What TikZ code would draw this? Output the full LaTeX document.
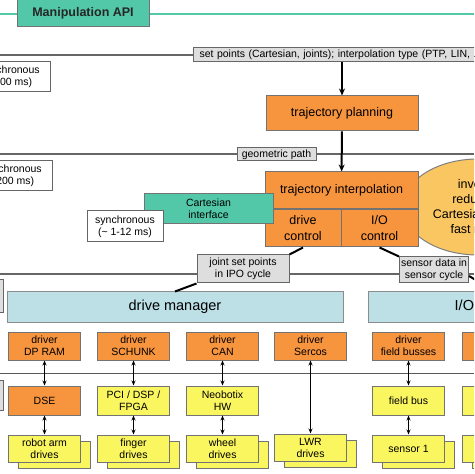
\documentclass[tikz,border=0pt]{standalone}
\usepackage{fontspec}
\setmainfont{Liberation Sans}
\usetikzlibrary{shapes.geometric, arrows.meta, positioning, shadows}

\definecolor{apiteal}{RGB}{82,200,168}
\definecolor{modorange}{RGB}{247,148,62}
\definecolor{hwyellow}{RGB}{250,246,96}
\definecolor{mgrblue}{RGB}{188,224,230}
\definecolor{ellorange}{RGB}{250,198,98}
\definecolor{lblgray}{RGB}{222,222,222}

\newcommand{\smallfont}{\fontsize{5.25pt}{6pt}\selectfont}
\newcommand{\midfont}{\fontsize{6.25pt}{8pt}\selectfont}
\newcommand{\bigfont}{\fontsize{7.25pt}{9pt}\selectfont}

\begin{document}
\begin{tikzpicture}[
        x=0.5pt, y=-0.5pt,
        % Gaps between the boxes of one row
        node distance=8pt and 8pt,
        % Modules: orange fill, larger text
        module/.style = {rectangle, draw=black!55, fill=modorange, line width=0.5pt,
                         align=center, inner sep=0pt, font=\midfont},
        % Drivers: orange fill, small text
        driver/.style = {rectangle, draw=black!55, fill=modorange, line width=0.5pt,
                         minimum width=36pt, minimum height=14pt, align=center,
                         inner sep=0pt, font=\smallfont},
        % Hardware: yellow fill
        hardware/.style = {driver, fill=hwyellow, minimum height=14.5pt},
        % Devices: yellow, with a second box behind
        device/.style = {driver, fill=hwyellow, minimum height=13.5pt,
                         copy shadow={shadow xshift=5pt, shadow yshift=-3.25pt}},
        % Managers: light blue, big text
        manager/.style = {rectangle, draw=black!45, fill=mgrblue, line width=0.5pt,
                          minimum height=15pt, inner sep=0pt, font=\bigfont},
        % Interfaces: teal
        iface/.style = {rectangle, draw=black!55, fill=apiteal, line width=0.5pt,
                        align=center, inner sep=0pt, font=\smallfont},
        % Timing notes: white boxes
        note/.style = {rectangle, draw=black!60, fill=white, line width=0.5pt,
                       align=center, inner sep=0pt, font=\smallfont},
        % Data labels on the buses: light gray
        lbl/.style = {rectangle, draw=black!60, fill=lblgray, line width=0.5pt,
                      align=center, inner sep=0pt, font=\smallfont},
        % Lines
        bus/.style = {draw=black!60, line width=1pt},
        flow/.style = {draw, line width=1pt, -{Stealth[length=3.5pt, width=3pt]}},
        callout/.style = {draw, line width=1pt},
        link/.style = {draw, line width=0.4pt,
                       {Stealth[length=2.5pt, width=2pt]}-{Stealth[length=2.5pt, width=2pt]}}
    ]

    % --- Visible part ---
    \useasboundingbox (0,0) rectangle (474,474);
    \clip (0,0) rectangle (474,474);

    % --- Buses across the whole width ---
    \coordinate (apiL) at (0,14);    \coordinate (apiR) at (474,14);
    \coordinate (cmdL) at (0,55);    \coordinate (cmdR) at (474,55);
    \coordinate (pathL) at (0,154);  \coordinate (pathR) at (474,154);
    \coordinate (ipoL) at (0,274);   \coordinate (ipoR) at (474,274);
    \coordinate (hwL) at (0,373);    \coordinate (hwR) at (474,373);
    \draw[apiteal, line width=0.75pt] (apiL) -- (apiR);
    \draw[bus] (cmdL) -- (cmdR);
    \draw[bus] (pathL) -- (pathR);
    \draw[bus] (ipoL) -- (ipoR);
    \draw[draw=black!65, line width=0.5pt] (hwL) -- (hwR);

    % --- Top: API and commands ---
    \node[iface, minimum width=66pt, minimum height=14pt, font=\midfont\bfseries,
          text=black!85] (api) at (83,13) {Manipulation API};
    \node[lbl, anchor=west, minimum height=7pt, text width=160pt, align=left,
          inner xsep=3pt] (setpts) at (193,55)
          {set points (Cartesian, joints); interpolation type (PTP, LIN, ...)};
    \node[note, minimum width=43pt, minimum height=15pt] (asyncA) at (7,77)
          {asynchronous\\(\textasciitilde{} 100 ms)};

    % --- Planning and interpolation ---
    \node[module, minimum width=76pt, minimum height=17.5pt] (trajplan) at (342,113.5)
          {trajectory planning};
    \node[lbl, minimum width=39.5pt, minimum height=6.5pt] (geompath) at (276.5,154.5)
          {geometric path};
    \node[note, minimum width=43pt, minimum height=15pt] (asyncB) at (9,176)
          {asynchronous\\(\textasciitilde{} 200 ms)};

    \node[ellipse, draw=black!50, fill=ellorange, line width=0.5pt, minimum width=75pt,
          minimum height=48pt, inner sep=0pt, align=center,
          font=\fontsize{6.25pt}{7.5pt}\selectfont] (redux) at (478,207)
          {inverse\\reduction\\Cartesian space\\fast mode};

    \node[module, minimum width=76.5pt, minimum height=18.5pt] (ipo) at (341.5,190.5)
          {trajectory interpolation};
    \node[module, anchor=north west, minimum width=38pt, minimum height=18.5pt]
          (drivectl) at (ipo.south west) {drive\\control};
    \node[module, anchor=north east, minimum width=38.5pt, minimum height=18.5pt]
          (ioctl) at (ipo.south east) {I/O\\control};

    \node[iface, minimum width=64.5pt, minimum height=15pt] (cartif) at (208.5,209)
          {Cartesian\\interface};
    \node[note, minimum width=38pt, minimum height=15.5pt] (syncnote) at (125,226.5)
          {synchronous\\(\textasciitilde{} 1-12 ms)};

    % --- IPO cycle labels and managers ---
    \node[lbl, minimum width=46pt, minimum height=14pt] (jsp) at (243,269)
          {joint set points\\in IPO cycle};
    \node[lbl, minimum width=34.5pt, minimum height=13pt] (sensdata) at (434,270)
          {sensor data in\\sensor cycle};
    \node[manager, minimum width=168pt] (drvmgr) at (175,307) {drive manager};
    \node[manager, minimum width=127pt] (iomgr) at (495,307) {I/O manager};

    \node[lbl, minimum width=12pt, minimum height=16pt] (stubA) at (-9,296) {};
    \node[lbl, minimum width=12pt, minimum height=15pt] (stubB) at (-9,395) {};

    % --- Drivers ---
    \node[driver] (drvDPRAM) at (44.5,346) {driver\\DP RAM};
    \node[driver, right=of drvDPRAM] (drvSCHUNK) {driver\\SCHUNK};
    \node[driver, right=of drvSCHUNK] (drvCAN) {driver\\CAN};
    \node[driver, right=7.5pt of drvCAN] (drvSercos) {driver\\Sercos};
    \node[driver, right=12.5pt of drvSercos] (drvFieldbus) {driver\\field busses};
    \node[driver, right=8.5pt of drvFieldbus] (drvMore) {};

    % --- Hardware ---
    \node[driver, minimum height=14.5pt, below=12.5pt of drvDPRAM] (hwDSE) {DSE};
    \node[hardware, below=12.5pt of drvSCHUNK] (hwPCI) {PCI / DSP /\\FPGA};
    \node[hardware, below=12.5pt of drvCAN] (hwNeobotix) {Neobotix\\HW};
    \node[hardware, below=12.5pt of drvFieldbus] (hwFieldbus) {field bus};
    \node[hardware, below=12.5pt of drvMore] (hwMore) {};

    % --- Devices ---
    \node[device, below=9.5pt of hwDSE] (devArm) {robot arm\\drives};
    \node[device, below=9.5pt of hwPCI] (devFinger) {finger\\drives};
    \node[device, below=9.5pt of hwNeobotix] (devWheel) {wheel\\drives};
    \node[device, below=36.5pt of drvSercos] (devLWR) {LWR\\drives};
    \node[device, below=9.5pt of hwFieldbus] (devSensor) {sensor 1};
    \node[device, below=9.5pt of hwMore] (devMore) {};

    % --- Edges ---
    \draw[flow] (setpts.south -| trajplan.north) -- (trajplan.north);
    \draw[flow] (trajplan) -- (ipo);

    \draw[callout] (drivectl.south) -- (jsp.north east);
    \draw[callout] (jsp.south west) -- (drvmgr.north);
    \draw[callout] (ioctl.south) -- (sensdata.north west);
    \draw[callout] ([yshift=-3pt]sensdata.east) -- (iomgr.north);

    \draw[link] (drvDPRAM) -- (hwDSE);
    \draw[link] (hwDSE) -- (devArm);
    \draw[link] (drvSCHUNK) -- (hwPCI);
    \draw[link] (hwPCI) -- (devFinger);
    \draw[link] (drvCAN) -- (hwNeobotix);
    \draw[link] (hwNeobotix) -- (devWheel);
    \draw[link] (drvSercos) -- (devLWR);
    \draw[link] (drvFieldbus) -- (hwFieldbus);
    \draw[link] (hwFieldbus) -- (devSensor);

\end{tikzpicture}
\end{document}
